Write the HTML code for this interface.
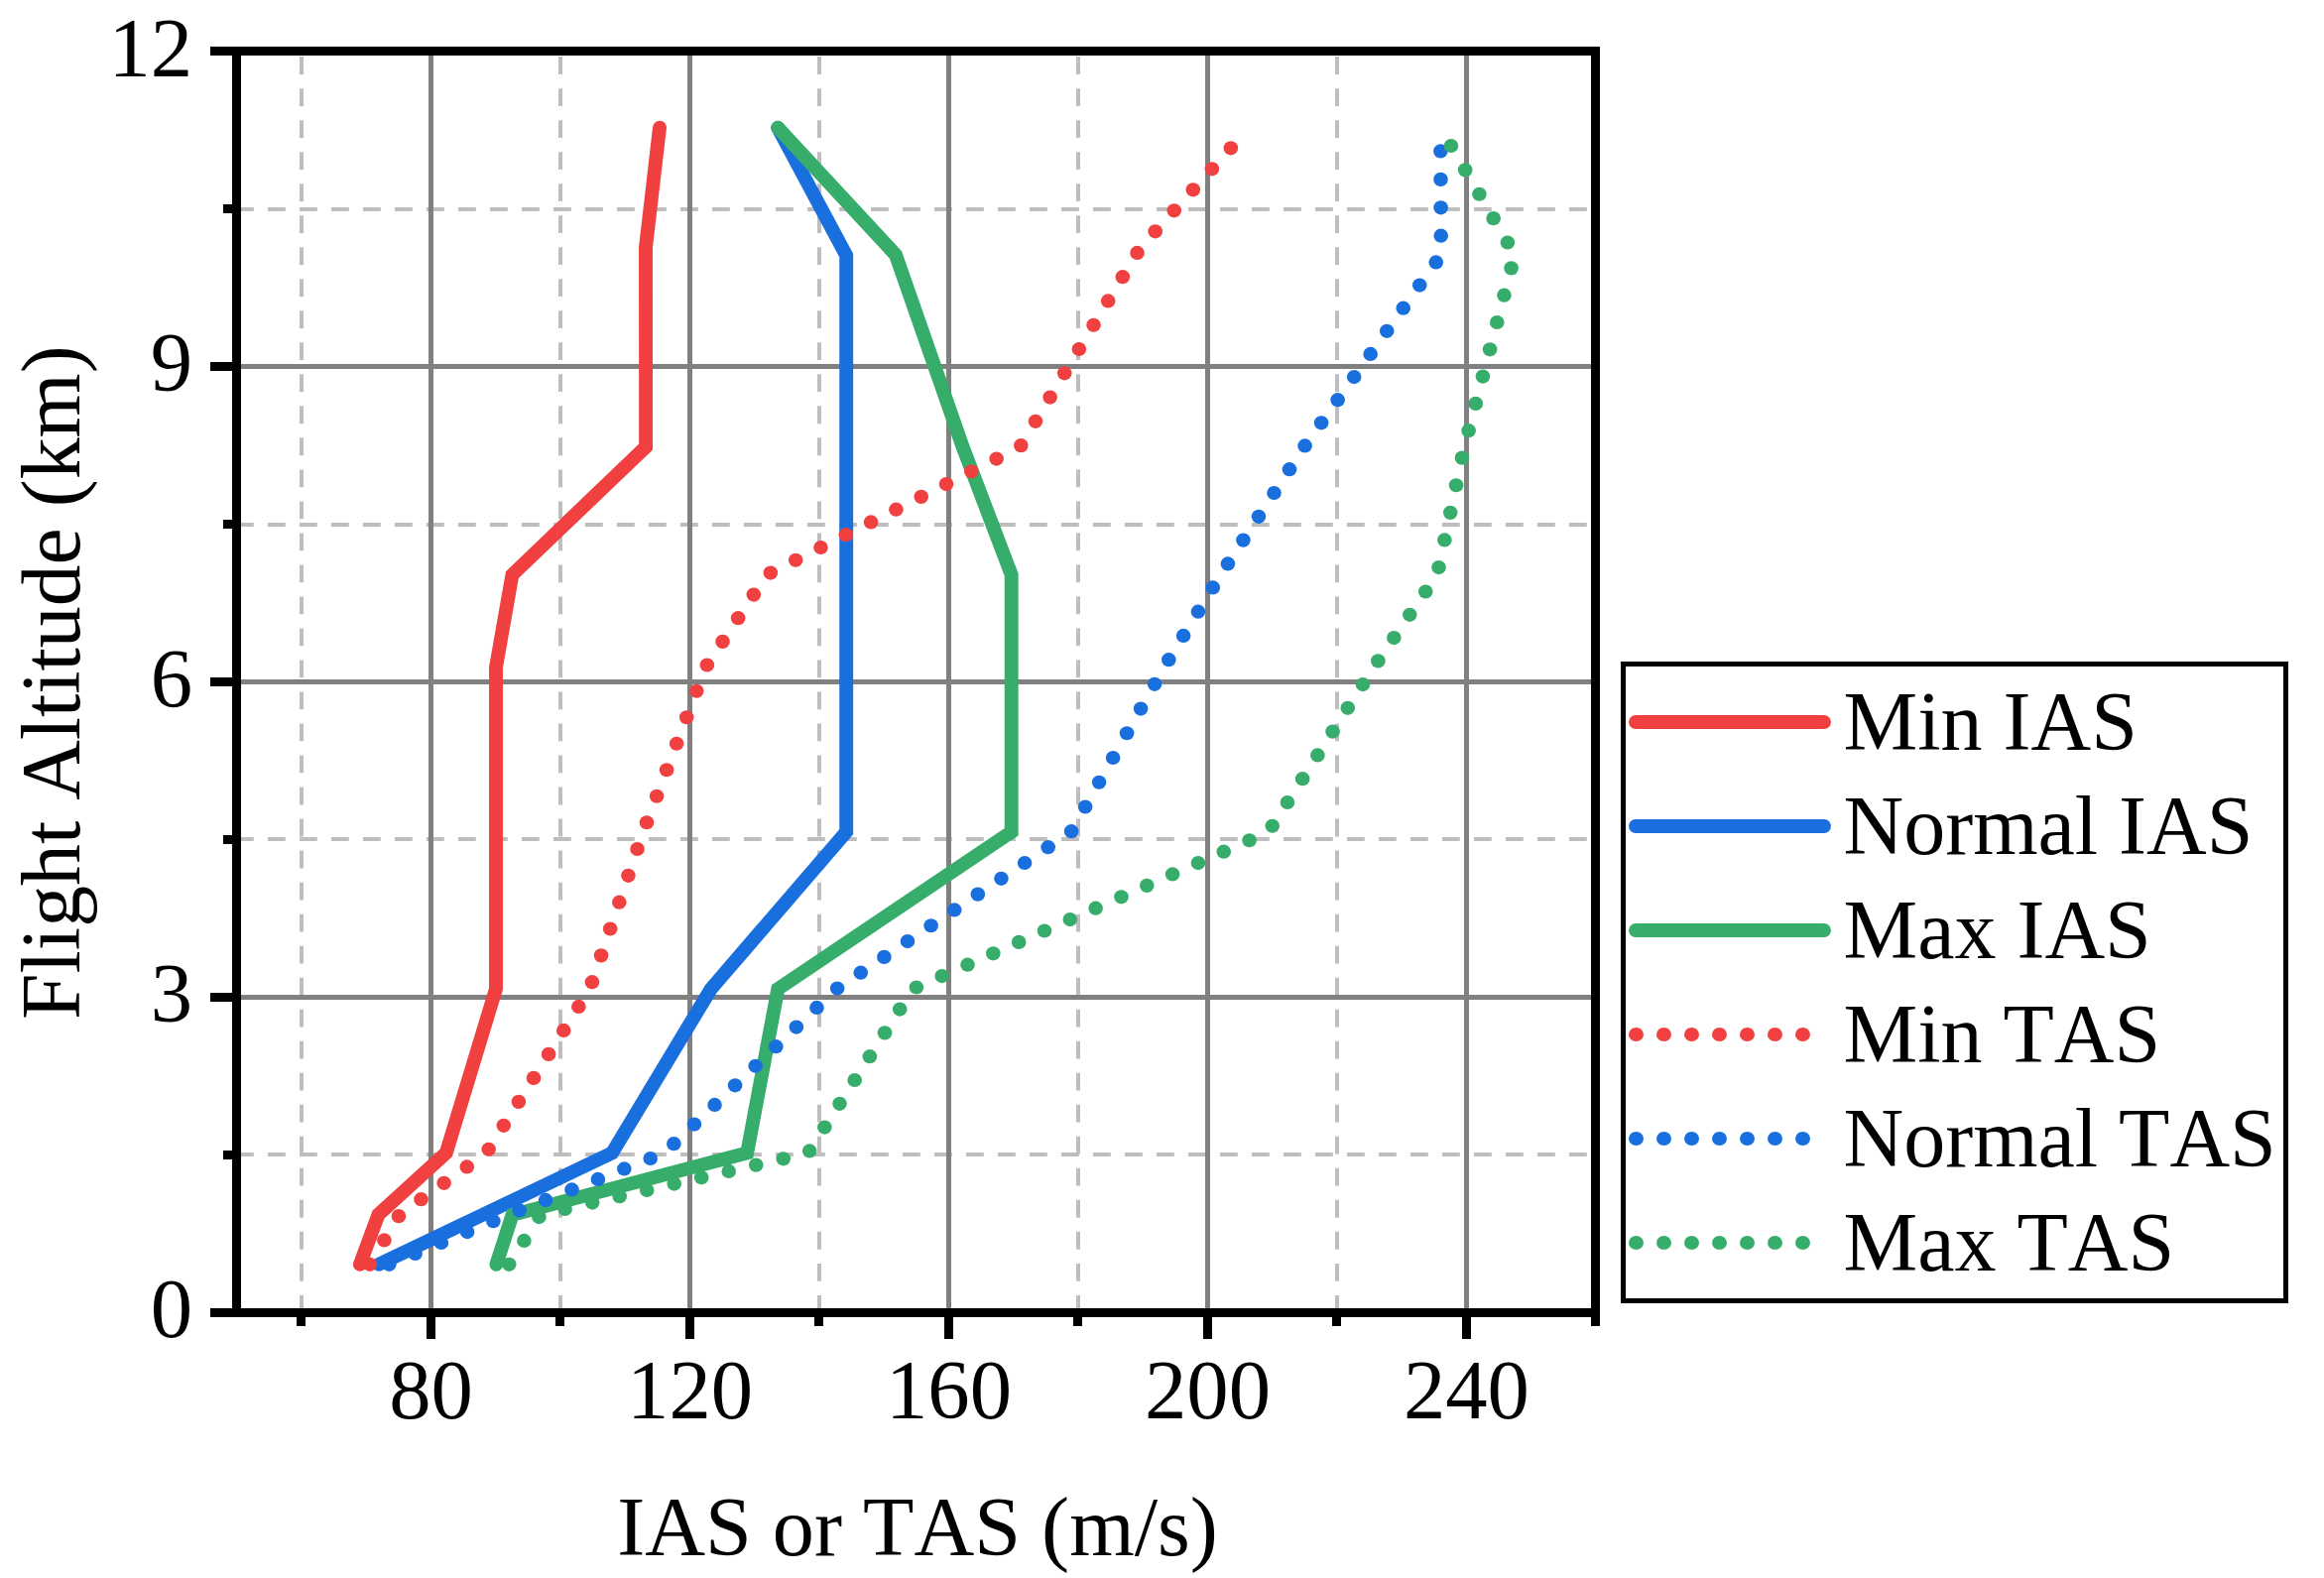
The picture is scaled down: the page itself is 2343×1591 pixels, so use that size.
<!DOCTYPE html>
<html lang="en">
<head>
<meta charset="utf-8">
<title>IAS or TAS vs Flight Altitude</title>
<style>
html,body{margin:0;padding:0;background:#fff;}
body{width:2343px;height:1591px;overflow:hidden;}
svg{display:block;}
</style>
</head>
<body>
<svg width="2343" height="1591" viewBox="0 0 2343 1591" role="img" aria-label="IAS or TAS versus flight altitude">
<rect x="0" y="0" width="2343" height="1591" fill="#ffffff"/>
<g stroke="#BEBEBE" stroke-width="4" fill="none" stroke-dasharray="17.8 14.22">
<path d="M304 1323.7 V51.5"/>
<path d="M565 1323.7 V51.5"/>
<path d="M826 1323.7 V51.5"/>
<path d="M1087 1323.7 V51.5"/>
<path d="M1348 1323.7 V51.5"/>
</g>
<g stroke="#BEBEBE" stroke-width="4" fill="none" stroke-dasharray="17.8 14.2">
<path d="M238 1164 H1608.5"/>
<path d="M238 846 H1608.5"/>
<path d="M238 529 H1608.5"/>
<path d="M238 211 H1608.5"/>
</g>
<g stroke="#808080" stroke-width="5" fill="none">
<path d="M434.5 1323.5 V51.5"/>
<path d="M695.5 1323.5 V51.5"/>
<path d="M956.5 1323.5 V51.5"/>
<path d="M1217.5 1323.5 V51.5"/>
<path d="M1478.5 1323.5 V51.5"/>
<path d="M238.5 1005.5 H1608.5"/>
<path d="M238.5 687.5 H1608.5"/>
<path d="M238.5 369.5 H1608.5"/>
</g>
<g fill="none" stroke-width="13.9" stroke-linecap="round" stroke-linejoin="miter">
<path d="M362.9 1274.8 L381.5 1224.5 L449.8 1162.5 L500 997 L500 672.8 L516.4 579.6 L651.1 450.5 L651 249.5 L665 128.6" stroke="#F14040"/>
<path d="M382 1274.8 L617.1 1162.5 L716.6 997.3 L853.2 838.7 L853.2 257.5 L784.2 128.8" stroke="#1A6FDF"/>
<path d="M500.4 1274.8 L516.5 1224.9 L753.2 1162.5 L784.3 997.1 L1019.7 838.7 L1019.7 579.5 L970.6 450.5 L903 256.9 L784.2 128.8" stroke="#37AD6B"/>
</g>
<g fill="#F14040">
<ellipse cx="372.87" cy="1274.8" rx="7.3" ry="7.1"/>
<ellipse cx="387.41" cy="1250.46" rx="7.3" ry="7.1"/>
<ellipse cx="401.95" cy="1226.13" rx="7.3" ry="7.1"/>
<ellipse cx="424.53" cy="1209.22" rx="7.3" ry="7.1"/>
<ellipse cx="447.65" cy="1192.81" rx="7.3" ry="7.1"/>
<ellipse cx="470.77" cy="1176.4" rx="7.3" ry="7.1"/>
<ellipse cx="492.67" cy="1158.83" rx="7.3" ry="7.1"/>
<ellipse cx="507.78" cy="1134.85" rx="7.3" ry="7.1"/>
<ellipse cx="522.89" cy="1110.86" rx="7.3" ry="7.1"/>
<ellipse cx="538.01" cy="1086.88" rx="7.3" ry="7.1"/>
<ellipse cx="553.12" cy="1062.89" rx="7.3" ry="7.1"/>
<ellipse cx="568.24" cy="1038.91" rx="7.3" ry="7.1"/>
<ellipse cx="583.35" cy="1014.92" rx="7.3" ry="7.1"/>
<ellipse cx="596.93" cy="990.21" rx="7.3" ry="7.1"/>
<ellipse cx="606.05" cy="963.36" rx="7.3" ry="7.1"/>
<ellipse cx="615.17" cy="936.52" rx="7.3" ry="7.1"/>
<ellipse cx="624.29" cy="909.68" rx="7.3" ry="7.1"/>
<ellipse cx="633.42" cy="882.84" rx="7.3" ry="7.1"/>
<ellipse cx="642.54" cy="855.99" rx="7.3" ry="7.1"/>
<ellipse cx="651.99" cy="829.27" rx="7.3" ry="7.1"/>
<ellipse cx="662.05" cy="802.76" rx="7.3" ry="7.1"/>
<ellipse cx="672.1" cy="776.26" rx="7.3" ry="7.1"/>
<ellipse cx="682.15" cy="749.75" rx="7.3" ry="7.1"/>
<ellipse cx="692.2" cy="723.24" rx="7.3" ry="7.1"/>
<ellipse cx="702.26" cy="696.73" rx="7.3" ry="7.1"/>
<ellipse cx="712.85" cy="670.5" rx="7.3" ry="7.1"/>
<ellipse cx="728.5" cy="646.86" rx="7.3" ry="7.1"/>
<ellipse cx="744.15" cy="623.22" rx="7.3" ry="7.1"/>
<ellipse cx="759.8" cy="599.58" rx="7.3" ry="7.1"/>
<ellipse cx="776.86" cy="577.53" rx="7.3" ry="7.1"/>
<ellipse cx="802.17" cy="564.76" rx="7.3" ry="7.1"/>
<ellipse cx="827.48" cy="551.98" rx="7.3" ry="7.1"/>
<ellipse cx="852.78" cy="539.2" rx="7.3" ry="7.1"/>
<ellipse cx="878.09" cy="526.43" rx="7.3" ry="7.1"/>
<ellipse cx="903.4" cy="513.65" rx="7.3" ry="7.1"/>
<ellipse cx="928.71" cy="500.87" rx="7.3" ry="7.1"/>
<ellipse cx="954.02" cy="488.1" rx="7.3" ry="7.1"/>
<ellipse cx="979.32" cy="475.32" rx="7.3" ry="7.1"/>
<ellipse cx="1004.63" cy="462.54" rx="7.3" ry="7.1"/>
<ellipse cx="1029.33" cy="449.11" rx="7.3" ry="7.1"/>
<ellipse cx="1043.97" cy="424.83" rx="7.3" ry="7.1"/>
<ellipse cx="1058.61" cy="400.56" rx="7.3" ry="7.1"/>
<ellipse cx="1073.25" cy="376.28" rx="7.3" ry="7.1"/>
<ellipse cx="1087.89" cy="352" rx="7.3" ry="7.1"/>
<ellipse cx="1102.53" cy="327.73" rx="7.3" ry="7.1"/>
<ellipse cx="1117.18" cy="303.45" rx="7.3" ry="7.1"/>
<ellipse cx="1131.82" cy="279.17" rx="7.3" ry="7.1"/>
<ellipse cx="1146.52" cy="254.93" rx="7.3" ry="7.1"/>
<ellipse cx="1164.72" cy="233.29" rx="7.3" ry="7.1"/>
<ellipse cx="1183.76" cy="212.28" rx="7.3" ry="7.1"/>
<ellipse cx="1202.81" cy="191.28" rx="7.3" ry="7.1"/>
<ellipse cx="1221.85" cy="170.28" rx="7.3" ry="7.1"/>
<ellipse cx="1240.89" cy="149.28" rx="7.3" ry="7.1"/>
</g>
<g fill="#1A6FDF">
<ellipse cx="392.38" cy="1274.8" rx="7.3" ry="7.1"/>
<ellipse cx="418.62" cy="1263.89" rx="7.3" ry="7.1"/>
<ellipse cx="444.86" cy="1252.98" rx="7.3" ry="7.1"/>
<ellipse cx="471.11" cy="1242.07" rx="7.3" ry="7.1"/>
<ellipse cx="497.35" cy="1231.16" rx="7.3" ry="7.1"/>
<ellipse cx="523.66" cy="1220.42" rx="7.3" ry="7.1"/>
<ellipse cx="550.07" cy="1209.93" rx="7.3" ry="7.1"/>
<ellipse cx="576.49" cy="1199.44" rx="7.3" ry="7.1"/>
<ellipse cx="602.9" cy="1188.95" rx="7.3" ry="7.1"/>
<ellipse cx="629.32" cy="1178.46" rx="7.3" ry="7.1"/>
<ellipse cx="655.73" cy="1167.98" rx="7.3" ry="7.1"/>
<ellipse cx="679.36" cy="1153.14" rx="7.3" ry="7.1"/>
<ellipse cx="699.94" cy="1133.54" rx="7.3" ry="7.1"/>
<ellipse cx="720.53" cy="1113.94" rx="7.3" ry="7.1"/>
<ellipse cx="741.11" cy="1094.35" rx="7.3" ry="7.1"/>
<ellipse cx="761.7" cy="1074.75" rx="7.3" ry="7.1"/>
<ellipse cx="782.28" cy="1055.16" rx="7.3" ry="7.1"/>
<ellipse cx="802.86" cy="1035.56" rx="7.3" ry="7.1"/>
<ellipse cx="823.45" cy="1015.97" rx="7.3" ry="7.1"/>
<ellipse cx="844.15" cy="996.51" rx="7.3" ry="7.1"/>
<ellipse cx="867.76" cy="980.7" rx="7.3" ry="7.1"/>
<ellipse cx="891.38" cy="964.89" rx="7.3" ry="7.1"/>
<ellipse cx="914.99" cy="949.08" rx="7.3" ry="7.1"/>
<ellipse cx="938.61" cy="933.26" rx="7.3" ry="7.1"/>
<ellipse cx="962.22" cy="917.45" rx="7.3" ry="7.1"/>
<ellipse cx="985.84" cy="901.64" rx="7.3" ry="7.1"/>
<ellipse cx="1009.45" cy="885.83" rx="7.3" ry="7.1"/>
<ellipse cx="1033.07" cy="870.01" rx="7.3" ry="7.1"/>
<ellipse cx="1056.68" cy="854.2" rx="7.3" ry="7.1"/>
<ellipse cx="1080.11" cy="838.21" rx="7.3" ry="7.1"/>
<ellipse cx="1094.1" cy="813.48" rx="7.3" ry="7.1"/>
<ellipse cx="1108.09" cy="788.74" rx="7.3" ry="7.1"/>
<ellipse cx="1122.09" cy="764.01" rx="7.3" ry="7.1"/>
<ellipse cx="1136.08" cy="739.27" rx="7.3" ry="7.1"/>
<ellipse cx="1150.07" cy="714.53" rx="7.3" ry="7.1"/>
<ellipse cx="1164.07" cy="689.8" rx="7.3" ry="7.1"/>
<ellipse cx="1178.32" cy="665.21" rx="7.3" ry="7.1"/>
<ellipse cx="1193.13" cy="640.96" rx="7.3" ry="7.1"/>
<ellipse cx="1207.95" cy="616.71" rx="7.3" ry="7.1"/>
<ellipse cx="1222.77" cy="592.46" rx="7.3" ry="7.1"/>
<ellipse cx="1237.91" cy="568.41" rx="7.3" ry="7.1"/>
<ellipse cx="1253.44" cy="544.61" rx="7.3" ry="7.1"/>
<ellipse cx="1268.97" cy="520.8" rx="7.3" ry="7.1"/>
<ellipse cx="1284.49" cy="497" rx="7.3" ry="7.1"/>
<ellipse cx="1300.02" cy="473.2" rx="7.3" ry="7.1"/>
<ellipse cx="1315.6" cy="449.43" rx="7.3" ry="7.1"/>
<ellipse cx="1332.12" cy="426.3" rx="7.3" ry="7.1"/>
<ellipse cx="1348.64" cy="403.18" rx="7.3" ry="7.1"/>
<ellipse cx="1365.16" cy="380.05" rx="7.3" ry="7.1"/>
<ellipse cx="1381.68" cy="356.93" rx="7.3" ry="7.1"/>
<ellipse cx="1398.2" cy="333.8" rx="7.3" ry="7.1"/>
<ellipse cx="1414.72" cy="310.68" rx="7.3" ry="7.1"/>
<ellipse cx="1431.24" cy="287.55" rx="7.3" ry="7.1"/>
<ellipse cx="1447.76" cy="264.43" rx="7.3" ry="7.1"/>
<ellipse cx="1452.71" cy="237.72" rx="7.3" ry="7.1"/>
<ellipse cx="1452.6" cy="209.3" rx="7.3" ry="7.1"/>
<ellipse cx="1452.48" cy="180.88" rx="7.3" ry="7.1"/>
<ellipse cx="1452.36" cy="152.46" rx="7.3" ry="7.1"/>
</g>
<g fill="#37AD6B">
<ellipse cx="513.29" cy="1274.8" rx="7.3" ry="7.1"/>
<ellipse cx="528.36" cy="1250.93" rx="7.3" ry="7.1"/>
<ellipse cx="543.44" cy="1227.06" rx="7.3" ry="7.1"/>
<ellipse cx="569.66" cy="1218.92" rx="7.3" ry="7.1"/>
<ellipse cx="597.18" cy="1212.59" rx="7.3" ry="7.1"/>
<ellipse cx="624.69" cy="1206.26" rx="7.3" ry="7.1"/>
<ellipse cx="652.2" cy="1199.93" rx="7.3" ry="7.1"/>
<ellipse cx="679.71" cy="1193.6" rx="7.3" ry="7.1"/>
<ellipse cx="707.22" cy="1187.27" rx="7.3" ry="7.1"/>
<ellipse cx="734.73" cy="1180.94" rx="7.3" ry="7.1"/>
<ellipse cx="762.24" cy="1174.61" rx="7.3" ry="7.1"/>
<ellipse cx="789.75" cy="1168.28" rx="7.3" ry="7.1"/>
<ellipse cx="816.18" cy="1160.41" rx="7.3" ry="7.1"/>
<ellipse cx="831.35" cy="1136.6" rx="7.3" ry="7.1"/>
<ellipse cx="846.52" cy="1112.8" rx="7.3" ry="7.1"/>
<ellipse cx="861.69" cy="1088.99" rx="7.3" ry="7.1"/>
<ellipse cx="876.86" cy="1065.18" rx="7.3" ry="7.1"/>
<ellipse cx="892.03" cy="1041.37" rx="7.3" ry="7.1"/>
<ellipse cx="907.19" cy="1017.56" rx="7.3" ry="7.1"/>
<ellipse cx="923.86" cy="995.5" rx="7.3" ry="7.1"/>
<ellipse cx="949.69" cy="984.1" rx="7.3" ry="7.1"/>
<ellipse cx="975.51" cy="972.69" rx="7.3" ry="7.1"/>
<ellipse cx="1001.33" cy="961.29" rx="7.3" ry="7.1"/>
<ellipse cx="1027.16" cy="949.89" rx="7.3" ry="7.1"/>
<ellipse cx="1052.98" cy="938.48" rx="7.3" ry="7.1"/>
<ellipse cx="1078.81" cy="927.08" rx="7.3" ry="7.1"/>
<ellipse cx="1104.63" cy="915.68" rx="7.3" ry="7.1"/>
<ellipse cx="1130.46" cy="904.28" rx="7.3" ry="7.1"/>
<ellipse cx="1156.28" cy="892.87" rx="7.3" ry="7.1"/>
<ellipse cx="1182.11" cy="881.47" rx="7.3" ry="7.1"/>
<ellipse cx="1207.93" cy="870.07" rx="7.3" ry="7.1"/>
<ellipse cx="1233.76" cy="858.66" rx="7.3" ry="7.1"/>
<ellipse cx="1259.58" cy="847.26" rx="7.3" ry="7.1"/>
<ellipse cx="1282.76" cy="832.77" rx="7.3" ry="7.1"/>
<ellipse cx="1297.96" cy="808.99" rx="7.3" ry="7.1"/>
<ellipse cx="1313.16" cy="785.2" rx="7.3" ry="7.1"/>
<ellipse cx="1328.36" cy="761.41" rx="7.3" ry="7.1"/>
<ellipse cx="1343.56" cy="737.62" rx="7.3" ry="7.1"/>
<ellipse cx="1358.76" cy="713.83" rx="7.3" ry="7.1"/>
<ellipse cx="1373.96" cy="690.04" rx="7.3" ry="7.1"/>
<ellipse cx="1389.37" cy="666.39" rx="7.3" ry="7.1"/>
<ellipse cx="1405.32" cy="643.1" rx="7.3" ry="7.1"/>
<ellipse cx="1421.28" cy="619.81" rx="7.3" ry="7.1"/>
<ellipse cx="1437.23" cy="596.52" rx="7.3" ry="7.1"/>
<ellipse cx="1450.51" cy="572.09" rx="7.3" ry="7.1"/>
<ellipse cx="1456.37" cy="544.47" rx="7.3" ry="7.1"/>
<ellipse cx="1462.23" cy="516.86" rx="7.3" ry="7.1"/>
<ellipse cx="1468.09" cy="489.24" rx="7.3" ry="7.1"/>
<ellipse cx="1473.95" cy="461.63" rx="7.3" ry="7.1"/>
<ellipse cx="1480.59" cy="434.2" rx="7.3" ry="7.1"/>
<ellipse cx="1487.76" cy="406.89" rx="7.3" ry="7.1"/>
<ellipse cx="1494.93" cy="379.59" rx="7.3" ry="7.1"/>
<ellipse cx="1502.09" cy="352.28" rx="7.3" ry="7.1"/>
<ellipse cx="1509.26" cy="324.98" rx="7.3" ry="7.1"/>
<ellipse cx="1516.42" cy="297.67" rx="7.3" ry="7.1"/>
<ellipse cx="1523.59" cy="270.37" rx="7.3" ry="7.1"/>
<ellipse cx="1519.9" cy="244.52" rx="7.3" ry="7.1"/>
<ellipse cx="1505.66" cy="220.14" rx="7.3" ry="7.1"/>
<ellipse cx="1491.42" cy="195.76" rx="7.3" ry="7.1"/>
<ellipse cx="1477.19" cy="171.39" rx="7.3" ry="7.1"/>
<ellipse cx="1462.95" cy="147.01" rx="7.3" ry="7.1"/>
</g>
<g stroke="#000" stroke-width="9" fill="none" stroke-linecap="butt">
<rect x="238.5" y="51.5" width="1370" height="1272"/>
<path d="M212 1323.5 H238.5"/>
<path d="M212 1005.5 H238.5"/>
<path d="M212 687.5 H238.5"/>
<path d="M212 369.5 H238.5"/>
<path d="M212 51.5 H238.5"/>
<path d="M225 1164.5 H238.5"/>
<path d="M225 846.5 H238.5"/>
<path d="M225 528.5 H238.5"/>
<path d="M225 210.5 H238.5"/>
<path d="M434.5 1323.5 V1350"/>
<path d="M695.5 1323.5 V1350"/>
<path d="M956.5 1323.5 V1350"/>
<path d="M1217.5 1323.5 V1350"/>
<path d="M1478.5 1323.5 V1350"/>
<path d="M303.5 1323.5 V1337"/>
<path d="M564.5 1323.5 V1337"/>
<path d="M825.5 1323.5 V1337"/>
<path d="M1086.5 1323.5 V1337"/>
<path d="M1347.5 1323.5 V1337"/>
<path d="M1608.5 1323.5 V1337"/>
</g>
<g font-family="'Liberation Serif', 'Times New Roman', Times, serif" font-size="84.7" fill="#000" style="font-kerning:none">
<text x="194.2" y="1347.8" text-anchor="end">0</text>
<text x="194.2" y="1029.8" text-anchor="end">3</text>
<text x="194.2" y="712.7" text-anchor="end">6</text>
<text x="194.2" y="394.1" text-anchor="end">9</text>
<text x="194.2" y="77.1" text-anchor="end">12</text>
<text x="434.61" y="1430.1" text-anchor="middle">80</text>
<text x="695.57" y="1430.1" text-anchor="middle">120</text>
<text x="956.52" y="1430.1" text-anchor="middle">160</text>
<text x="1217.47" y="1430.1" text-anchor="middle">200</text>
<text x="1478.42" y="1430.1" text-anchor="middle">240</text>
<text x="925" y="1568" text-anchor="middle" font-size="84.2">IAS or TAS (m/s)</text>
<text transform="translate(79.6 688.2) rotate(-90)" text-anchor="middle" font-size="83.8">Flight Altitude (km)</text>
</g>
<rect x="1636.5" y="669.5" width="668" height="642" fill="#fff" stroke="#000" stroke-width="5"/>
<path d="M1649 728 H1839" stroke="#F14040" stroke-width="13.9" stroke-linecap="round" fill="none"/>
<path d="M1649 833 H1839" stroke="#1A6FDF" stroke-width="13.9" stroke-linecap="round" fill="none"/>
<path d="M1649 938 H1839" stroke="#37AD6B" stroke-width="13.9" stroke-linecap="round" fill="none"/>
<g fill="#F14040">
<ellipse cx="1649.5" cy="1043" rx="7.5" ry="7.1"/>
<ellipse cx="1677.5" cy="1043" rx="7.5" ry="7.1"/>
<ellipse cx="1705.5" cy="1043" rx="7.5" ry="7.1"/>
<ellipse cx="1733.5" cy="1043" rx="7.5" ry="7.1"/>
<ellipse cx="1761.5" cy="1043" rx="7.5" ry="7.1"/>
<ellipse cx="1789.5" cy="1043" rx="7.5" ry="7.1"/>
<ellipse cx="1817.5" cy="1043" rx="7.5" ry="7.1"/>
</g>
<g fill="#1A6FDF">
<ellipse cx="1649.5" cy="1148" rx="7.5" ry="7.1"/>
<ellipse cx="1677.5" cy="1148" rx="7.5" ry="7.1"/>
<ellipse cx="1705.5" cy="1148" rx="7.5" ry="7.1"/>
<ellipse cx="1733.5" cy="1148" rx="7.5" ry="7.1"/>
<ellipse cx="1761.5" cy="1148" rx="7.5" ry="7.1"/>
<ellipse cx="1789.5" cy="1148" rx="7.5" ry="7.1"/>
<ellipse cx="1817.5" cy="1148" rx="7.5" ry="7.1"/>
</g>
<g fill="#37AD6B">
<ellipse cx="1649.5" cy="1253" rx="7.5" ry="7.1"/>
<ellipse cx="1677.5" cy="1253" rx="7.5" ry="7.1"/>
<ellipse cx="1705.5" cy="1253" rx="7.5" ry="7.1"/>
<ellipse cx="1733.5" cy="1253" rx="7.5" ry="7.1"/>
<ellipse cx="1761.5" cy="1253" rx="7.5" ry="7.1"/>
<ellipse cx="1789.5" cy="1253" rx="7.5" ry="7.1"/>
<ellipse cx="1817.5" cy="1253" rx="7.5" ry="7.1"/>
</g>
<g font-family="'Liberation Serif', 'Times New Roman', Times, serif" font-size="84" fill="#000" style="font-kerning:none">
<text x="1858.5" y="756.2">Min IAS</text>
<text x="1858.5" y="861.2">Normal IAS</text>
<text x="1858.5" y="966.2">Max IAS</text>
<text x="1858.5" y="1071.2">Min TAS</text>
<text x="1858.5" y="1176.2">Normal TAS</text>
<text x="1858.5" y="1281.2">Max TAS</text>
</g>
</svg>
</body>
</html>
